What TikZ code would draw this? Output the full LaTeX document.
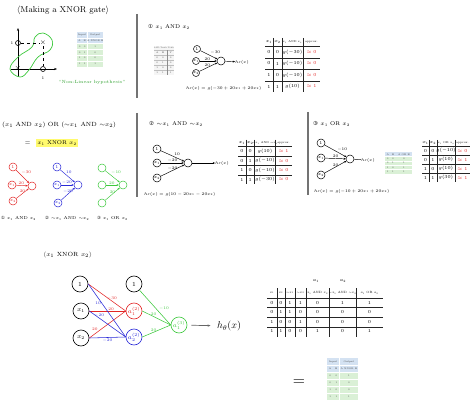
\RequirePackage{fix-cm}
\documentclass[tikz,border=0pt]{standalone}
\usepackage{amsmath,amssymb}
\usepackage{fontspec}
\newfontfamily\symfont{DejaVu Sans}
\usetikzlibrary{arrows.meta, positioning}

\definecolor{hred}{RGB}{226,38,38}
\definecolor{hblue}{RGB}{40,40,215}
\definecolor{hgreen}{RGB}{60,200,60}
\definecolor{hyellow}{RGB}{255,250,110}
\definecolor{hdblue}{RGB}{212,226,242}
\definecolor{bdgreen}{RGB}{218,240,214}

\tikzset{
  %% neurons
  neuron/.style={circle, draw=#1, text=#1, minimum size=8pt, inner sep=0pt,
                 font=\fontsize{4.5}{5}\selectfont, line width=0.5pt},
  neuron/.default=black,
  bigneuron/.style={circle, draw=#1, text=#1, minimum size=16pt, inner sep=0pt,
                    font=\fontsize{6.2}{7}\selectfont, line width=0.6pt},
  bigneuron/.default=black,
  %% weights and links
  wt/.style={font=\fontsize{4}{4.5}\selectfont, text=#1, inner sep=0.6pt},
  wt/.default=black,
  syn/.style={-{Stealth[length=2.2pt,width=2pt]}, line width=0.45pt, draw=#1},
  syn/.default=black,
  link/.style={line width=0.55pt, draw=#1},
  link/.default=black,
  %% tables and texts
  tabline/.style={line width=0.45pt, draw=black!85},
  ttxt/.style={font=\fontsize{4.6}{5}\selectfont, inner sep=0pt},
  thead/.style={font=\fontsize{3.1}{3.4}\selectfont, inner sep=0pt},
  ptxt/.style={font=\fontsize{2.4}{2.8}\selectfont, inner sep=0pt, text=black!70},
  heading/.style={font=\fontsize{5.5}{6}\selectfont, anchor=west, inner sep=0pt},
  eqn/.style={font=\fontsize{4.1}{5}\selectfont, anchor=west, inner sep=0pt},
  sepline/.style={line width=1.2pt, draw=black!55},
}

%% truth table of one gate
\newcommand{\gatetable}[4]{%
  \begin{scope}[#2]
    \foreach \y in {4,16,27.5,39} \draw[tabline] (0,\y) -- (55,\y);
    \foreach \x in {8,17,38} \draw[tabline] (\x,-4) -- (\x,50);
    \node[ttxt] (#1-h1) at (4,0) {$x_1$};
    \node[ttxt] (#1-h2) at (12.5,0) {$x_2$};
    \node[thead, font=\fontsize{2.8}{3}\selectfont] (#1-h3) at (27.5,0) {#3};
    \node[thead, font=\fontsize{2.8}{3}\selectfont] (#1-h4) at (46.5,0) {approx.};
    \foreach \a/\b/\g/\v [count=\r] in {#4} {
      \node[ttxt] (#1-\r-1) at (4,{11.5*\r-1.5}) {\a};
      \node[ttxt] (#1-\r-2) at (12.5,{11.5*\r-1.5}) {\b};
      \node[ttxt] (#1-\r-3) at (27.5,{11.5*\r-1.5}) {$g(\g)$};
      \node[ttxt, text=hred] (#1-\r-4) at (46.5,{11.5*\r-1.5}) {$\approx\v$};
    }
  \end{scope}}

%% pasted XNOR table
\newcommand{\xnortab}[3]{%
  \begin{scope}[shift={#2}, scale=#3]
    \fill[hdblue] (0,0) rectangle (26,11.6);
    \fill[bdgreen] (0,11.6) rectangle (26,35);
    \foreach \y in {5.8,11.6,17.4,23.2,29} \draw[white, line width=0.4pt] (0,\y) -- (26,\y);
    \draw[white, line width=0.4pt] (10.4,0) -- (10.4,35);
    \node[ptxt] (#1-in) at (5.2,2.9) {Input};
    \node[ptxt] (#1-out) at (18.2,2.9) {Output};
    \node[ptxt] (#1-a) at (2.6,8.7) {A};
    \node[ptxt] (#1-b) at (7.8,8.7) {B};
    \node[ptxt] (#1-g) at (18.2,8.7) {A XNOR B};
    \foreach \a/\b/\o [count=\r] in {0/0/1,0/1/0,1/0/0,1/1/1} {
      \node[ptxt] (#1-\r a) at (2.6,{5.8*\r+8.7}) {\a};
      \node[ptxt] (#1-\r b) at (7.8,{5.8*\r+8.7}) {\b};
      \node[ptxt] (#1-\r o) at (18.2,{5.8*\r+8.7}) {\o};
    }
  \end{scope}}

\begin{document}
\begin{tikzpicture}[x=1pt, y=-1pt]
  \useasboundingbox (0,0) rectangle (474,401);

  %% ---------- top left: the problem ----------
  \node[font=\fontsize{8.6}{9}\selectfont] (title) at (63,10)
       {$\langle$Making a XNOR gate$\rangle$};
  \coordinate (ax0) at (18,77);
  \coordinate (ax1) at (18,28);
  \coordinate (ay0) at (11,69);
  \coordinate (ay1) at (57,69);
  \draw[-{Stealth[length=3pt]}, line width=0.6pt] (ax0) -- (ax1);
  \draw[-{Stealth[length=3pt]}, line width=0.6pt] (ay0) -- (ay1);
  \draw[hgreen, line width=0.7pt] plot[smooth cycle, tension=0.7] coordinates
       {(43,33) (52,40) (50,50) (38,57) (29,70) (20,77) (10,69) (18,57) (32,47) (35,37)};
  \node[circle, draw, line width=0.6pt, inner sep=0pt, minimum size=5pt] (p01) at (18,43) {};
  \node[circle, draw, line width=0.6pt, inner sep=0pt, minimum size=5pt] (p10) at (43,69) {};
  \node[font=\fontsize{7}{7}\selectfont, inner sep=0pt] (p11) at (43,43) {$\times$};
  \node[font=\fontsize{8}{8}\selectfont, inner sep=0pt] (p00) at (18,69) {$\times$};
  \draw[dashed, line width=0.4pt] (p01) -- (p11);
  \draw[dashed, line width=0.4pt] (p11) -- (p10);
  \node[font=\fontsize{4}{4}\selectfont] (one-y) at (12,43) {1};
  \node[font=\fontsize{4}{4}\selectfont] (one-x) at (43,78) {1};
  \xnortab{tl}{(77,32)}{1}
  \node[font=\fontsize{4.5}{5}\selectfont, text=hgreen!80!black] (nonlin) at (92,82)
       {``Non-Linear hypothesis''};

  %% separators
  \draw[sepline] (137,14) -- (137,98);
  \draw[sepline] (137,113) -- (137,197);
  \draw[sepline] (308,112) -- (308,195);

  %% ---------- 1: x1 AND x2 ----------
  \node[heading] (s1) at (148,27) {{\symfont ①} $x_1$ AND $x_2$};
  \begin{scope}[shift={(154,46)}]
    \fill[black!4] (0,0) rectangle (20,29);
    \foreach \y in {4.5,9,13.7,18.7,23.7} \draw[black!25, line width=0.3pt] (0,\y) -- (20,\y);
    \draw[black!45, line width=0.3pt] (13.4,4.5) -- (13.4,29);
    \node[ptxt, font=\fontsize{1.9}{2}\selectfont] (andt-h) at (10,2.25) {AND Truth Table};
    \node[ptxt] (andt-a) at (3.3,6.8) {A};
    \node[ptxt] (andt-b) at (9,6.8) {B};
    \node[ptxt] (andt-y) at (16.7,6.8) {Y};
    \foreach \a/\b/\o [count=\r] in {0/0/0,0/1/0,1/0/0,1/1/1} {
      \node[ptxt] (andt-\r a) at (3.3,{5*\r+6.5}) {\a};
      \node[ptxt] (andt-\r b) at (9,{5*\r+6.5}) {\b};
      \node[ptxt] (andt-\r o) at (16.7,{5*\r+6.5}) {\o};
    }
  \end{scope}
  \node[neuron, minimum size=7pt] (a-b) at (197,49) {1};
  \node[neuron, minimum size=7pt] (a-x1) at (196,61) {$x_1$};
  \node[neuron, minimum size=7pt] (a-x2) at (196,73) {$x_2$};
  \node[neuron] (a-out) at (221,61) {};
  \node[eqn, anchor=center] (a-h) at (242,62) {$h_\theta(x)$};
  \draw[syn] (a-b) -- (a-out) node[wt, pos=0.55, above right] {$-30$};
  \draw[syn] (a-x1) -- (a-out) node[wt, pos=0.45, above] {$20$};
  \draw[syn] (a-x2) -- (a-out) node[wt, pos=0.45, above] {$20$};
  \draw[syn] (a-out) -- (a-h);
  \node[eqn] (a-eq) at (186,88) {$h_\theta(x) = g(-30 + 20x_1 + 20x_2)$};
  \gatetable{ta}{shift={(265,42)}}{$x_1$ AND $x_2$}{0/0/-30/0,0/1/-10/0,1/0/-10/0,1/1/10/1}

  %% ---------- 2: NOT x1 AND NOT x2 ----------
  \node[heading] (s2) at (149,124) {{\symfont ②} ${\sim}x_1$ AND ${\sim}x_2$};
  \node[neuron] (n-b) at (157,149) {1};
  \node[neuron] (n-x1) at (157,163) {$x_1$};
  \node[neuron] (n-x2) at (157,178) {$x_2$};
  \node[neuron] (n-out) at (188,163) {};
  \node[eqn, anchor=center] (n-h) at (222,163) {$h_\theta(x)$};
  \draw[syn] (n-b) -- (n-out) node[wt, pos=0.55, above right] {$10$};
  \draw[syn] (n-x1) -- (n-out) node[wt, pos=0.5, above] {$-20$};
  \draw[syn] (n-x2) -- (n-out) node[wt, pos=0.5, above] {$-20$};
  \draw[syn] (n-out) -- (n-h);
  \node[eqn] (n-eq) at (144,194) {$h_\theta(x) = g(10 - 20x_1 - 20x_2)$};
  \gatetable{tn}{shift={(238,143)}, xscale=0.98, yscale=0.82}{${\sim}x_1$ AND ${\sim}x_2$}{0/0/10/1,0/1/-10/0,1/0/-10/0,1/1/-30/0}

  %% ---------- 3: x1 OR x2 ----------
  \node[heading] (s3) at (313,124) {{\symfont ③} $x_1$ OR $x_2$};
  \node[neuron] (o-b) at (321,143) {1};
  \node[neuron] (o-x1) at (321,158) {$x_1$};
  \node[neuron] (o-x2) at (321,175) {$x_2$};
  \node[neuron] (o-out) at (350,159) {};
  \node[eqn, anchor=west] (o-h) at (361,160) {$h_\theta(x)$};
  \draw[syn] (o-b) -- (o-out) node[wt, pos=0.55, above right] {$-10$};
  \draw[syn] (o-x1) -- (o-out) node[wt, pos=0.5, above] {$20$};
  \draw[syn] (o-x2) -- (o-out) node[wt, pos=0.5, above] {$20$};
  \draw[line width=0.45pt] (o-out) -- (o-h);
  \begin{scope}[shift={(385,152)}]
    \fill[hdblue] (0,0) rectangle (27,4.4);
    \fill[bdgreen] (0,4.4) rectangle (27,22);
    \foreach \y in {4.4,8.8,13.2,17.6} \draw[white, line width=0.4pt] (0,\y) -- (27,\y);
    \node[ptxt] (ort-a) at (2.7,2.2) {A};
    \node[ptxt] (ort-b) at (8,2.2) {B};
    \node[ptxt] (ort-g) at (19,2.2) {A OR B};
    \foreach \a/\b/\o [count=\r] in {0/0/0,0/1/1,1/0/1,1/1/1} {
      \node[ptxt] (ort-\r a) at (2.7,{4.4*\r+2.2}) {\a};
      \node[ptxt] (ort-\r b) at (8,{4.4*\r+2.2}) {\b};
      \node[ptxt] (ort-\r o) at (19,{4.4*\r+2.2}) {\o};
    }
  \end{scope}
  \node[eqn] (o-eq) at (314,191) {$h_\theta(x) = g(-10 + 20x_1 + 20x_2)$};
  \gatetable{to}{shift={(422,143)}, xscale=0.87, yscale=0.78}{$x_1$ OR $x_2$}{0/0/-10/0,0/1/10/1,1/0/10/1,1/1/30/1}

  %% ---------- middle left: combining ----------
  \node[heading, font=\fontsize{6}{7}\selectfont] (comb) at (2,125)
       {$(x_1$ AND $x_2)$ OR $({\sim}x_1$ AND ${\sim}x_2)$};
  \node[fill=hyellow, inner sep=1.2pt, font=\fontsize{5.5}{6}\selectfont] (xnorhl) at (57,143)
       {$x_1$ XNOR $x_2$};
  \node[font=\fontsize{6}{6}\selectfont, left=2pt of xnorhl] (eqsign) {$=$};

  \node[neuron=hred] (r0) at (13,167) {1};
  \node[neuron=hred] (r1) at (12,185) {$x_1$};
  \node[neuron=hred] (r2) at (13,201) {$x_2$};
  \node[neuron=hred] (ro) at (32,186) {};
  \draw[syn=hred] (r0) -- (ro) node[wt=hred, pos=0.35, above right] {$-30$};
  \draw[syn=hred] (r1) -- (ro) node[wt=hred, pos=0.45, above] {$20$};
  \draw[syn=hred] (r2) -- (ro) node[wt=hred, pos=0.5, above] {$20$};

  \node[neuron=hblue] (bl0) at (57,167) {1};
  \node[neuron=hblue] (bl1) at (57,185) {$x_1$};
  \node[neuron=hblue] (bl2) at (58,203) {$x_2$};
  \node[neuron=hblue] (blo) at (78,185) {};
  \draw[syn=hblue] (bl0) -- (blo) node[wt=hblue, pos=0.35, above right] {$10$};
  \draw[syn=hblue] (bl1) -- (blo) node[wt=hblue, pos=0.45, above] {$-20$};
  \draw[syn=hblue] (bl2) -- (blo) node[wt=hblue, pos=0.5, above] {$-20$};

  \node[neuron=hgreen] (gr0) at (102,168) {};
  \node[neuron=hgreen] (gr1) at (102,185) {};
  \node[neuron=hgreen] (gr2) at (102,203) {};
  \node[neuron=hgreen] (gro) at (123,185) {};
  \draw[syn=hgreen] (gr0) -- (gro) node[wt=hgreen, pos=0.35, above right] {$-10$};
  \draw[syn=hgreen] (gr1) -- (gro) node[wt=hgreen, pos=0.45, above] {$20$};
  \draw[syn=hgreen] (gr2) -- (gro) node[wt=hgreen, pos=0.5, above] {$20$};

  \node[heading, font=\fontsize{4.3}{5}\selectfont] (lab1) at (1,218) {{\symfont ①} $x_1$ AND $x_2$};
  \node[heading, font=\fontsize{4.3}{5}\selectfont] (lab2) at (45,218) {{\symfont ②} ${\sim}x_1$ AND ${\sim}x_2$};
  \node[heading, font=\fontsize{4.3}{5}\selectfont] (lab3) at (97,218) {{\symfont ③} $x_1$ OR $x_2$};

  %% ---------- bottom: the XNOR network ----------
  \node[heading, font=\fontsize{6}{7}\selectfont] (s4) at (43,255) {$\langle x_1$ XNOR $x_2\rangle$};
  \node[bigneuron] (i0) at (80,284) {1};
  \node[bigneuron] (i1) at (81,311) {$x_1$};
  \node[bigneuron] (i2) at (81,338) {$x_2$};
  \node[bigneuron] (hb) at (134,284) {1};
  \node[bigneuron=hred] (a1) at (134,311) {$a_1^{(2)}$};
  \node[bigneuron=hblue] (a2) at (134,337) {$a_2^{(2)}$};
  \node[bigneuron=hgreen] (a3) at (179,325) {$a_1^{(3)}$};
  \node[font=\fontsize{10}{12}\selectfont] (hout) at (229,326) {$h_\theta(x)$};

  \draw[link=hred] (i0.east) -- (a1.west) node[wt=hred, pos=0.63, above] {$-30$};
  \draw[link=hred] (i1.east) -- (a1.west) node[wt=hred, pos=0.6, above] {$20$};
  \draw[link=hred] (i2.east) -- (a1.west) node[wt=hred, pos=0.25, above left] {$20$};
  \draw[link=hblue] (i0.east) -- (a2.west) node[wt=hblue, pos=0.36, left] {$10$};
  \draw[link=hblue] (i1.east) -- (a2.west) node[wt=hblue, pos=0.27, above] {$-20$};
  \draw[link=hblue] (i2.east) -- (a2.west) node[wt=hblue, pos=0.5, below] {$-20$};
  \draw[link=hgreen] (hb) -- (a3.west) node[wt=hgreen, pos=0.6, above right] {$-10$};
  \draw[link=hgreen] (a1.east) -- (a3.west) node[wt=hgreen, pos=0.4, above] {$20$};
  \draw[link=hgreen] (a2.east) -- (a3.west) node[wt=hgreen, pos=0.4, above] {$20$};
  \draw[-{Stealth[length=3pt]}, black!60, line width=0.7pt, shorten <=4pt, shorten >=3pt] (a3) -- (hout);

  %% combined truth table
  \node[ttxt] (colA) at (316,281) {$a_1$};
  \node[ttxt] (colB) at (343,281) {$a_2$};
  \foreach \y in {298,307.5,317,327} \draw[tabline] (267,\y) -- (383,\y);
  \foreach \x in {277,285,295,306,329,356} \draw[tabline] (\x,288) -- (\x,337);
  \node[thead] (c-h1) at (272,293) {$x_1$};
  \node[thead] (c-h2) at (281,293) {$x_2$};
  \node[thead] (c-h3) at (290,293) {${\sim}x_1$};
  \node[thead] (c-h4) at (300.5,293) {${\sim}x_2$};
  \node[thead] (c-h5) at (317.5,293) {$x_1$ AND $x_2$};
  \node[thead] (c-h6) at (342.5,293) {${\sim}x_1$ AND ${\sim}x_2$};
  \node[thead] (c-h7) at (369.5,293) {$a_1$ OR $a_2$};
  \foreach \p/\q/\s/\t/\u/\v/\w [count=\r] in
      {0/0/1/1/0/1/1, 0/1/1/0/0/0/0, 1/0/0/1/0/0/0, 1/1/0/0/1/0/1} {
    \node[ttxt] (c-\r-1) at (272,{293+9.6*\r}) {\p};
    \node[ttxt] (c-\r-2) at (281,{293+9.6*\r}) {\q};
    \node[ttxt] (c-\r-3) at (290,{293+9.6*\r}) {\s};
    \node[ttxt] (c-\r-4) at (300.5,{293+9.6*\r}) {\t};
    \node[ttxt] (c-\r-5) at (317.5,{293+9.6*\r}) {\u};
    \node[ttxt] (c-\r-6) at (342.5,{293+9.6*\r}) {\v};
    \node[ttxt] (c-\r-7) at (369.5,{293+9.6*\r}) {\w};
  }

  \node[font=\fontsize{16}{16}\selectfont] (eqbig) at (299,383) {$=$};
  \xnortab{bt}{(327,358)}{1.2}
\end{tikzpicture}
\end{document}
